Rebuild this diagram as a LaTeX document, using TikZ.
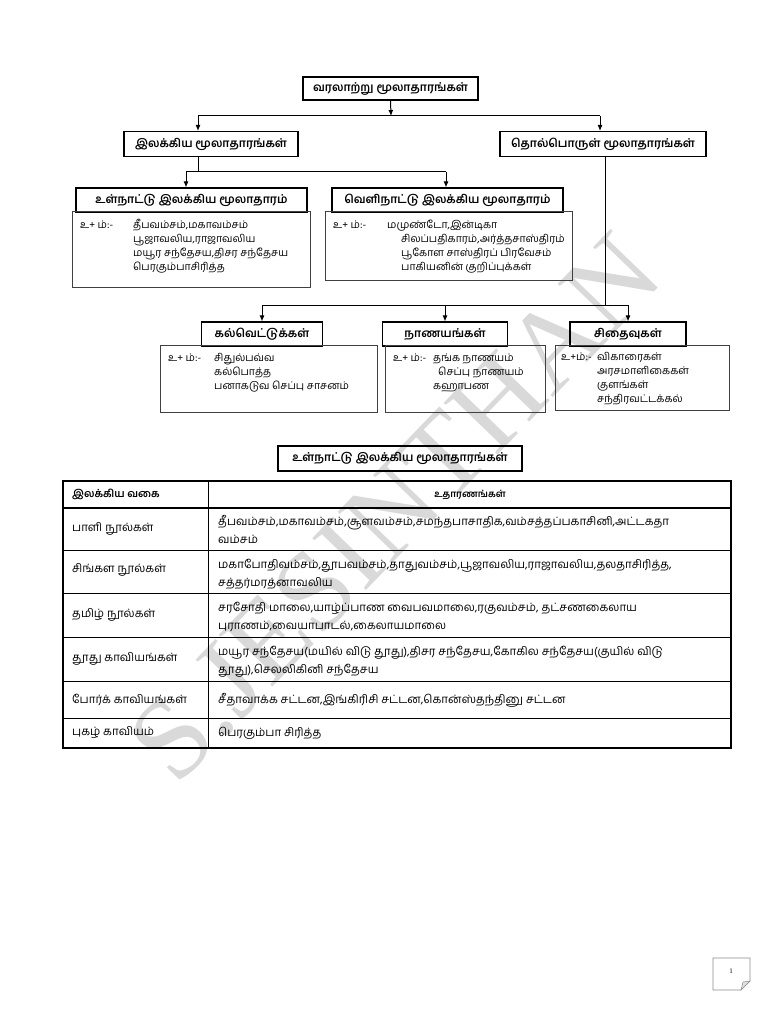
\documentclass[tikz,border=0pt]{standalone}
\usepackage{fontspec}
\setmainfont{Liberation Serif}
\newfontfamily\ta[Script=Tamil]{Hind Madurai}
\usetikzlibrary{arrows.meta}
\newcommand\lbx[2]{\makebox[#1][l]{#2}}
\begin{document}
\begin{tikzpicture}[x=1pt,y=-1pt,
  titlebox/.style={draw,line width=1.1pt,inner sep=0pt,font=\ta\bfseries\fontsize{11.5}{13}\selectfont},
  contentbox/.style={draw,line width=0.6pt,draw=black!75,inner sep=0pt},
  contenttext/.style={anchor=north west,inner sep=0pt,font=\ta\fontsize{10.5}{14}\selectfont,align=left},
  conn/.style={line width=1pt},
  arr/.style={line width=1pt,-{Latex[length=6pt,width=5pt]}},
  cell/.style={anchor=west,inner sep=0pt,font=\ta\fontsize{11.5}{18}\selectfont,align=left},
  headcell/.style={inner sep=0pt,font=\ta\bfseries\fontsize{10.5}{12}\selectfont},
  tline/.style={line width=0.8pt}
]
\useasboundingbox (0,0) rectangle (768,1024);
\fill[white] (0,0) rectangle (768,1024);

% watermark
\node[rotate=46,text=black!15,font=\fontsize{114}{114}\selectfont] (wm) at (395,508) {S.JESINTHAN};

% ---- top level
\node[titlebox,minimum width=175pt,minimum height=23pt] (top) at (390.5,88.5) {வரலாற்று மூலாதாரங்கள்};
\node[titlebox,minimum width=174pt,minimum height=25pt] (ilak) at (211,144) {இலக்கிய மூலாதாரங்கள்};
\node[titlebox,minimum width=206pt,minimum height=25pt] (thol) at (603,144) {தொல்பொருள் மூலாதாரங்கள்};

\coordinate (j1) at (391,116);
\coordinate (jl) at (198,116);
\coordinate (jr) at (600,116);
\draw[arr] (top.south) -- (j1);
\draw[conn] (jl) -- (jr);
\draw[arr] (jl) -- (jl |- ilak.north);
\draw[arr] (jr) -- (jr |- thol.north);

% ---- literary sources
\node[titlebox,minimum width=231pt,minimum height=24pt] (ulnat) at (191.5,200) {உள்நாட்டு இலக்கிய மூலாதாரம்};
\node[titlebox,minimum width=231pt,minimum height=24pt] (velinat) at (447.5,200) {வெளிநாட்டு இலக்கிய மூலாதாரம்};
\coordinate (k0) at (198,172);
\coordinate (kl) at (186,172);
\coordinate (kr) at (446,172);
\draw[conn] (ilak.south -| k0) -- (k0);
\draw[conn] (kl) -- (kr);
\draw[arr] (kl) -- (kl |- ulnat.north);
\draw[arr] (kr) -- (kr |- velinat.north);

\node[contentbox,minimum width=238pt,minimum height=76pt] (ulbox) at (191,249.5) {};
\node[contenttext] (ultext) at (80,218) {\begin{tabular}{@{}l@{}l@{}}
\lbx{53pt}{உ+ ம்:-} & தீபவம்சம்,மகாவம்சம்\\
 & பூஜாவலிய,ராஜாவலிய\\
 & மயூர சந்தேசய,திசர சந்தேசய\\
 & பெரகும்பாசிரித்த
\end{tabular}};

\node[contentbox,minimum width=247pt,minimum height=69pt] (velbox) at (448.5,245.5) {};
\node[contenttext] (veltext) at (333,218) {\begin{tabular}{@{}l@{}l@{}}
\lbx{54pt}{உ+ ம்:-} & மமுண்டோ,இன்டிகா\\
 & \hspace{14pt}சிலப்பதிகாரம்,அர்த்தசாஸ்திரம்\\
 & \hspace{14pt}பூகோள சாஸ்திரப் பிரவேசம்\\
 & \hspace{14pt}பாகியனின் குறிப்புக்கள்
\end{tabular}};

% ---- archaeological sources
\coordinate (m0) at (605,305);
\coordinate (ml) at (262,305);
\coordinate (mm) at (445,305);
\coordinate (mr) at (628,305);
\draw[conn] (thol.south -| m0) -- (m0);
\draw[conn] (ml) -- (mr);

\node[titlebox,minimum width=121pt,minimum height=24pt] (kal) at (262,334) {கல்வெட்டுக்கள்};
\node[titlebox,minimum width=125pt,minimum height=24pt] (nan) at (445,334) {நாணயங்கள்};
\node[titlebox,minimum width=116pt,minimum height=24pt] (sith) at (628,334) {சிதைவுகள்};
\draw[arr] (ml) -- (kal.north);
\draw[arr] (mm) -- (nan.north);
\draw[arr] (mr) -- (sith.north);

\node[contentbox,minimum width=217pt,minimum height=67pt] (kalbox) at (268.5,379) {};
\node[contenttext] (kaltext) at (168,351.5) {\begin{tabular}{@{}l@{}l@{}}
\lbx{46pt}{உ+ ம்:-} & சிதுல்பவ்வ\\
 & கல்பொத்த\\
 & பனாகடுவ செப்பு சாசனம்
\end{tabular}};

\node[contentbox,minimum width=160pt,minimum height=67pt] (nanbox) at (465,379) {};
\node[contenttext] (nantext) at (393,351.5) {\begin{tabular}{@{}l@{}l@{}}
\lbx{40pt}{உ+ ம்:-} & தங்க நாணயம்\\
 & \hspace{5pt}செப்பு நாணயம்\\
 & கஹாபண
\end{tabular}};

\node[contentbox,minimum width=174pt,minimum height=65pt] (sithbox) at (642,378) {};
\node[contenttext] (sithtext) at (561,350.5) {\begin{tabular}{@{}l@{}l@{}}
\lbx{36pt}{உ+ம்:-} & விகாரைகள்\\
 & அரசமாளிகைகள்\\
 & குளங்கள்\\
 & சந்திரவட்டக்கல்
\end{tabular}};

% ---- table title
\node[titlebox,minimum width=244pt,minimum height=25pt] (ttitle) at (400,458.5) {உள்நாட்டு இலக்கிய மூலாதாரங்கள்};

% ---- table
\draw[line width=1.3pt] (63,481) rectangle (731,748);
\draw[tline] (208,481) -- (208,748);
\draw[line width=1.1pt] (63,508) -- (731,508);
\draw[tline] (63,550) -- (731,550);
\draw[tline] (63,593) -- (731,593);
\draw[tline] (63,637) -- (731,637);
\draw[tline] (63,681) -- (731,681);
\draw[tline] (63,718) -- (731,718);

\node[headcell,anchor=west] (h1) at (72,494.5) {இலக்கிய வகை};
\node[headcell,font=\ta\bfseries\fontsize{9.5}{12}\selectfont] (h2) at (470,494.5) {உதாரணங்கள்};

\node[cell] (r1a) at (72,529) {பாளி நூல்கள்};
\node[cell,anchor=north west] (r1b) at (218,515.5) {தீபவம்சம்,மகாவம்சம்,சூளவம்சம்,சமந்தபாசாதிக,வம்சத்தப்பகாசினி,அட்டகதா\\வம்சம்};
\node[cell] (r2a) at (72,570) {சிங்கள நூல்கள்};
\node[cell,anchor=north west] (r2b) at (218,558.5) {மகாபோதிவம்சம்,தூபவம்சம்,தாதுவம்சம்,பூஜாவலிய,ராஜாவலிய,தலதாசிரித்த,\\சத்தர்மரத்னாவலிய};
\node[cell] (r3a) at (72,615) {தமிழ் நூல்கள்};
\node[cell,anchor=north west] (r3b) at (218,602) {சரசோதி மாலை,யாழ்ப்பாண வைபவமாலை,ரகுவம்சம், தட்சணகைலாய\\புராணம்,வையாபாடல்,கைலாயமாலை};
\node[cell] (r4a) at (72,659) {தூது காவியங்கள்};
\node[cell,anchor=north west] (r4b) at (218,646) {மயூர சந்தேசய(மயில் விடு தூது),திசர சந்தேசய,கோகில சந்தேசய(குயில் விடு\\தூது),செலலிகினி சந்தேசய};
\node[cell] (r5a) at (72,700) {போர்க் காவியங்கள்};
\node[cell] (r5b) at (218,700) {சீதாவாக்க சட்டன,இங்கிரிசி சட்டன,கொன்ஸ்தந்தினு சட்டன};
\node[cell] (r6a) at (72,733) {புகழ் காவியம்};
\node[cell] (r6b) at (218,733) {பெரகும்பா சிரித்த};

% ---- page number
\draw[black!45,line width=0.6pt] (713,958) -- (750,958) -- (750,981) -- (741,990) -- (713,990) -- cycle;
\draw[black!45,fill=black!12,line width=0.5pt] (750,981) -- (743,982) -- (741,990) -- cycle;
\node[inner sep=0pt,font=\fontsize{7}{8}\selectfont] (pg) at (731,971) {1};
\end{tikzpicture}
\end{document}
